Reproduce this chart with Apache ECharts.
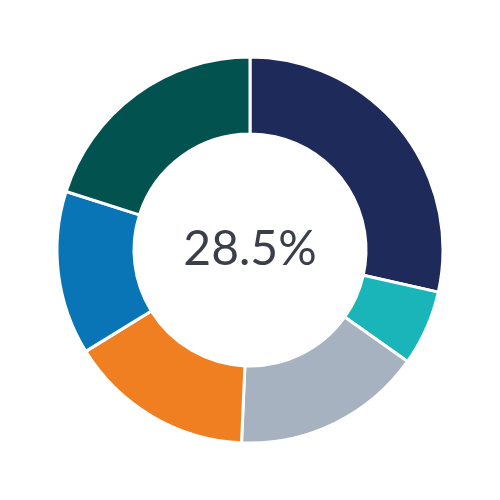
<!DOCTYPE html>
<html>
<head>
<meta charset="utf-8">
<script src="https://cdn.jsdelivr.net/npm/echarts@6/dist/echarts.min.js"></script>
<style>
  html, body { margin: 0; padding: 0; background: #fff; }
  #chart { width: 500px; height: 500px; }
</style>
</head>
<body>
<div id="chart"></div>
<script>
// slice shares, clockwise from 12 o'clock
const names = ['A', 'B', 'C', 'D', 'E', 'F']
const values = [28.5, 6.3, 15.9, 15.5, 13.7, 20.1]
const colors = ['#1e2a5a', '#1ab5b8', '#a7b2c1', '#f07f22', '#0a75b6', '#02524f']
const centerLabel = '28.5%'

const chart = echarts.init(document.getElementById('chart'))
chart.setOption({
  animation: false,
  graphic: [{
    type: 'text',
    left: 'center',
    top: 226,
    style: {
      text: centerLabel,
      font: '48px Lato',
      fill: '#3b3f4a'
    }
  }],
  series: [{
    type: 'pie',
    center: [250, 250],
    radius: [116, 193],
    startAngle: 90,
    clockwise: true,
    label: { show: false },
    labelLine: { show: false },
    itemStyle: { borderColor: '#fff', borderWidth: 3 },
    emphasis: { disabled: true },
    data: names.map((n, i) => ({
      name: n,
      value: values[i],
      itemStyle: { color: colors[i] }
    }))
  }]
})
</script>
</body>
</html>
